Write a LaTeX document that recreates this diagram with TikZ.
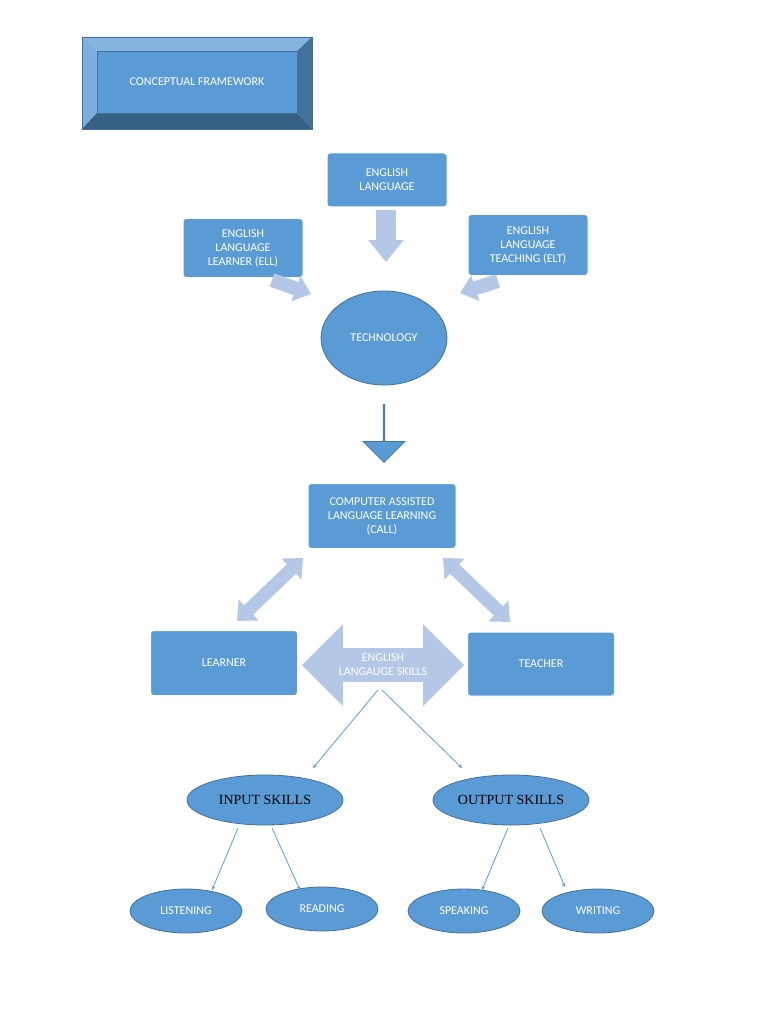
\documentclass[tikz,border=0pt]{standalone}
\usepackage{fontspec}
\setmainfont{Carlito}
\newfontfamily\tms{Liberation Serif}
\usetikzlibrary{shapes.geometric,shapes.arrows,arrows.meta}
\definecolor{mb}{HTML}{5B9BD5}
\definecolor{db}{HTML}{41719C}
\definecolor{lb}{HTML}{B4C7E7}
\begin{document}
\begin{tikzpicture}[x=1pt,y=-1pt,
  box/.style={draw=white,line width=1pt,fill=mb,rounded corners=3pt,text=white,align=center,font=\fontsize{12}{14}\selectfont},
  ell/.style={ellipse,draw=db,line width=0.8pt,fill=mb,inner sep=0pt,text=white,font=\fontsize{12}{14}\selectfont},
  sell/.style={ell,text=black,font=\tms\fontsize{14}{16}\selectfont},
  thin/.style={-stealth,mb,line width=0.8pt},
  big/.style={lb}]
\useasboundingbox (0,0) rectangle (768,1024);
% bevel box
\fill[mb!75!white] (82,37) -- (312,37) -- (297,51) -- (97,51) -- cycle;
\fill[mb!80!white] (82,37) -- (97,51) -- (97,113) -- (82,129) -- cycle;
\fill[db] (312,37) -- (297,51) -- (297,113) -- (312,129) -- cycle;
\fill[db!85!black] (82,129) -- (97,113) -- (297,113) -- (312,129) -- cycle;
\node[fill=mb,draw=db,minimum width=200pt,minimum height=62pt,text=white,font=\fontsize{12}{14}\selectfont] (cf) at (197,82) {CONCEPTUAL FRAMEWORK};
\draw[db,line width=0.8pt] (82,37) rectangle (312,129);
% top boxes
\node[box,minimum width=120pt,minimum height=54pt] (el) at (387,180) {ENGLISH\\LANGUAGE};
\node[box,minimum width=120pt,minimum height=59pt] (ell) at (243,248) {ENGLISH\\LANGUAGE\\LEARNER (ELL)};
\node[box,minimum width=120pt,minimum height=61pt] (elt) at (528,245) {ENGLISH\\LANGUAGE\\TEACHING (ELT)};
\node[ell,minimum width=126pt,minimum height=94pt] (tech) at (384,338) {TECHNOLOGY};
\coordinate (a1) at (386,210); \coordinate (a1e) at (386,262);
\coordinate (a2) at (272,280); \coordinate (a2e) at (311,294);
\coordinate (a3) at (498,281); \coordinate (a3e) at (460,293);
\draw[big,line width=20pt,-{Triangle[width=34pt,length=22pt]}] (a1) -- (a1e);
\draw[big,line width=14pt,-{Triangle[width=26pt,length=16pt]}] (a2) -- (a2e);
\draw[big,line width=14pt,-{Triangle[width=26pt,length=16pt]}] (a3) -- (a3e);
% dark arrow
\node[single arrow,shape border rotate=270,fill=mb,draw=db,line width=0.8pt,minimum height=58pt,minimum width=42pt,single arrow head extend=10pt,single arrow tip angle=90,inner sep=0pt] (dn) at (384,433) {};
\node[box,minimum width=148pt,minimum height=65pt] (call) at (382,516) {COMPUTER ASSISTED\\LANGUAGE LEARNING\\(CALL)};
\node[box,minimum width=147pt,minimum height=65pt] (lr) at (224,663) {LEARNER};
\node[box,minimum width=147pt,minimum height=64pt] (tc) at (541,664) {TEACHER};
\coordinate (d1) at (303,558); \coordinate (d1e) at (237,621);
\coordinate (d2) at (443,558); \coordinate (d2e) at (510,622);
\draw[big,line width=13pt,{Triangle[width=28pt,length=16pt]}-{Triangle[width=28pt,length=16pt]}] (d1) -- (d1e);
\draw[big,line width=13pt,{Triangle[width=28pt,length=16pt]}-{Triangle[width=28pt,length=16pt]}] (d2) -- (d2e);
\node[double arrow,fill=lb,minimum width=82pt,minimum height=162pt,double arrow head extend=16pt,inner sep=0pt,text=white,align=center,font=\fontsize{12}{14}\selectfont] (es) at (383,665) {ENGLISH\\LANGAUGE SKILLS};
\node[sell,minimum width=156pt,minimum height=50pt] (in) at (265,800) {INPUT SKILLS};
\node[sell,minimum width=156pt,minimum height=50pt] (out) at (511,800) {OUTPUT SKILLS};
\coordinate (s1) at (378,690); \coordinate (s2) at (382,690);
\coordinate (s1e) at (313,768); \coordinate (s2e) at (462,768);
\draw[thin] (s1) -- (s1e);
\draw[thin] (s2) -- (s2e);
\node[ell,minimum width=112pt,minimum height=44pt] (li) at (186,911) {LISTENING};
\node[ell,minimum width=112pt,minimum height=44pt] (re) at (322,909) {READING};
\node[ell,minimum width=112pt,minimum height=44pt] (sp) at (464,911) {SPEAKING};
\node[ell,minimum width=112pt,minimum height=44pt] (wr) at (598,911) {WRITING};
\coordinate (t1) at (238,828); \coordinate (t2) at (272,828);
\coordinate (t3) at (508,828); \coordinate (t4) at (540,828);
\coordinate (u1) at (212,890); \coordinate (u2) at (300,890);
\coordinate (u3) at (482,890); \coordinate (u4) at (565,887);
\draw[thin] (t1) -- (u1);
\draw[thin] (t2) -- (u2);
\draw[thin] (t3) -- (u3);
\draw[thin] (t4) -- (u4);
\end{tikzpicture}
\end{document}
